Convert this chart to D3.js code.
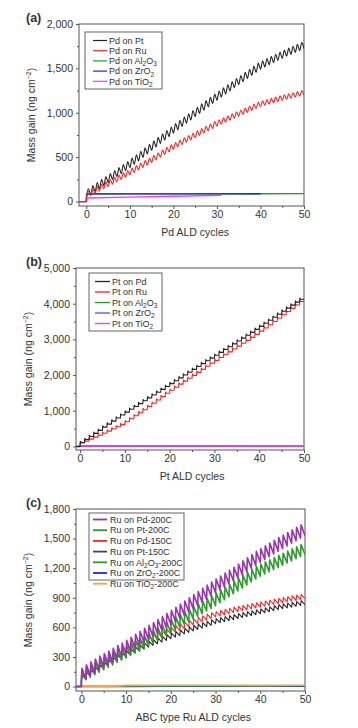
<!DOCTYPE html>
<html><head><meta charset="utf-8">
<script src="https://cdn.jsdelivr.net/npm/d3@7"></script>
<style>
body{margin:0;background:#fff;}
svg text{font-family:Arial,"Liberation Sans",Helvetica,sans-serif;fill:#333;}
</style></head>
<body>
<svg id="chart" width="358" height="728"></svg>
<script>
// ---------- DATA ----------
// Panel (a): Pd ALD, value at each cycle 0..50 (trough), with per-cycle bump height
const a_PdOnPt = [40,75,110,145,180,212,245,280,313,347,380,419,458,497,536,575,614,653,692,731,770,808,845,882,919,956,993,1030,1067,1104,1140,1176,1211,1246,1281,1316,1350,1385,1420,1455,1490,1515,1540,1565,1590,1613,1636,1658,1680,1700,1720];
const a_PdOnRu = [40,66,92,118,144,170,196,222,248,274,300,328,356,384,412,440,470,500,530,560,590,616,642,668,694,720,746,772,798,824,850,872,894,916,938,960,982,1004,1026,1048,1070,1084,1098,1112,1126,1140,1152,1164,1176,1188,1200];
const a_flatCycles = [0,10,20,30,40,50];
const a_PdOnAl2O3 = [85,86,87,88,88,89];
const a_zrCycles = [0,10,20,30,40];
const a_PdOnZrO2 = [86,86,87,87,88];
const a_tiCycles = [0,10,20,31];
const a_PdOnTiO2 = [40,50,60,70];
const a_amp = {pt:70, ru:50};

// Panel (b): Pt ALD
const b_PtOnPd = [20,110,195,280,365,450,540,625,710,795,880,960,1040,1120,1200,1280,1360,1440,1520,1600,1680,1760,1840,1920,2000,2080,2160,2240,2320,2400,2475,2555,2635,2715,2795,2875,2955,3035,3115,3195,3280,3365,3450,3535,3620,3705,3790,3875,3960,4045,4125];
const b_PtOnRu = [40,95,150,205,260,315,370,430,490,550,610,690,775,860,945,1030,1120,1210,1300,1395,1490,1575,1660,1745,1830,1910,1990,2075,2160,2245,2330,2410,2490,2570,2650,2730,2810,2890,2970,3055,3140,3230,3320,3410,3500,3590,3690,3780,3870,3965,4060];
const b_flatCycles = [0,10,20,30,40,50];
const b_PtOnAl2O3 = [8,9,10,10,11,11];
const b_PtOnZrO2 = [10,11,12,12,13,13];
const b_PtOnTiO2 = [12,13,14,14,15,15];
const b_overshoot = 35;

// Panel (c): ABC type Ru ALD
const c_PdAt200 = [40,75,110,140,170,200,225,250,278,305,330,360,390,420,450,480,510,540,570,600,630,662,694,726,758,790,822,854,886,918,950,980,1010,1040,1070,1100,1132,1164,1196,1228,1260,1288,1316,1344,1372,1400,1426,1452,1478,1504,1530];
const c_PtAt200 = [40,70,95,120,145,170,195,220,245,268,290,315,340,365,390,415,442,469,496,523,550,577,604,631,658,685,712,739,766,793,820,850,880,910,940,970,1000,1030,1060,1090,1120,1142,1164,1186,1208,1230,1252,1274,1296,1318,1340];
const c_PdAt150 = [50,85,118,150,180,210,240,270,298,325,350,372,393,413,432,450,467,484,501,518,535,553,571,589,607,625,641,657,673,689,705,716,727,738,749,760,769,778,787,796,805,814,823,832,841,850,858,866,874,882,890];
const c_PtAt150 = [45,75,105,130,155,180,205,230,255,278,300,320,340,360,380,400,417,434,451,468,485,501,517,533,549,565,579,593,607,621,637,648,659,669,679,690,700,710,719,728,738,748,758,769,780,790,798,806,814,822,830];
const c_amp = {pd200:110, pt200:100, pd150:45, pt150:40};
const c_flatCycles = [0,7,10,20,30,40,50];
const c_Al2O3 = [2,3,4,5,5,5,6];
const c_ZrO2 = [0,1,2,3,3,3,4];
const c_TiO2 = [0,2,12,14,13,12,14];

// tick labels
const a_yTicks = [0,500,1000,1500,2000];
const b_yTicks = [0,1000,2000,3000,4000,5000];
const c_yTicks = [0,300,600,900,1200,1500,1800];
const xTicks = [0,10,20,30,40,50];

// ---------- HELPERS ----------
const svg = d3.select("#chart");
const fmt = d3.format(",");

function sawPoints(vals, amp, peakPos, xStart){
  const pts = [[xStart,0],[0,0]];
  for(let n=0;n<vals.length-1;n++){
    pts.push([n, vals[n]]);
    pts.push([n+peakPos, vals[n+1]+amp]);
  }
  pts.push([vals.length-1, vals[vals.length-1]]);
  return pts;
}
function stairPoints(vals, os, xStart){
  const pts = [[xStart,0],[0,0]];
  for(let n=0;n<vals.length-1;n++){
    pts.push([n, vals[n]]);
    pts.push([n+0.08, vals[n+1]+os]);
    pts.push([n+0.3, vals[n+1]]);
  }
  pts.push([vals.length-1, vals[vals.length-1]]);
  return pts;
}
function flatPoints(cyc, vals, xStart){
  const pts = [[xStart,0],[0,0]];
  cyc.forEach((c,i)=>pts.push([c===0?0.05:c, vals[i]]));
  return pts;
}
// write text with "_x" parts as subscripts and "^x" parts as superscripts
function richText(sel, parts, subSize){
  let shift = 0;
  parts.forEach(p=>{
    let target = 0, txt = p, small = false;
    if(p.startsWith("_")){ target = 2.2; txt = p.slice(1); small = true; }
    else if(p.startsWith("^")){ target = -4; txt = p.slice(1); small = true; }
    const ts = sel.append("tspan").attr("dy", target - shift).text(txt);
    if(small) ts.style("font-size", subSize);
    shift = target;
  });
}

function panel(cfg){
  const g = svg.append("g");
  const x = d3.scaleLinear().domain(cfg.xDomain).range([cfg.left, cfg.right]);
  const y = d3.scaleLinear().domain(cfg.yDomain).range([cfg.bottom, cfg.top]);
  g.append("rect").attr("x",cfg.left).attr("y",cfg.top)
    .attr("width",cfg.right-cfg.left).attr("height",cfg.bottom-cfg.top)
    .attr("fill","none").attr("stroke","#555").attr("stroke-width",1);
  const ya = g.append("g").attr("transform",`translate(${cfg.left},0)`)
    .call(d3.axisLeft(y).tickValues(cfg.yTicks).tickFormat(fmt).tickSize(3).tickPadding(3));
  const ym = g.append("g").attr("transform",`translate(${cfg.left},0)`)
    .call(d3.axisLeft(y).tickValues(cfg.yMinor).tickFormat("").tickSize(2));
  const xa = g.append("g").attr("transform",`translate(0,${cfg.bottom})`)
    .call(d3.axisBottom(x).tickValues(xTicks).tickFormat(d3.format("d")).tickSize(3).tickPadding(2));
  const xm = g.append("g").attr("transform",`translate(0,${cfg.bottom})`)
    .call(d3.axisBottom(x).tickValues([5,15,25,35,45]).tickFormat("").tickSize(2));
  [ya,ym,xa,xm].forEach(a=>{
    a.select(".domain").remove();
    a.selectAll("line").attr("stroke","#555");
    a.selectAll("text").style("font-size","10.5px").attr("fill","#333");
  });
  const cid = "clip"+cfg.id;
  svg.append("clipPath").attr("id",cid).append("rect")
    .attr("x",cfg.left).attr("y",cfg.top).attr("width",cfg.right-cfg.left).attr("height",cfg.bottom-cfg.top);
  const plot = g.append("g").attr("clip-path",`url(#${cid})`);
  cfg.series.forEach(s=>{
    const line = d3.line().x(d=>x(d[0])).y(d=>y(d[1])).curve(s.curve||d3.curveLinear);
    plot.append("path").attr("d",line(s.pts)).attr("fill","none")
      .attr("stroke",s.color).attr("stroke-width",s.width||1).attr("stroke-linejoin","round");
  });
  g.append("text").attr("x",26).attr("y",cfg.top-2).attr("text-anchor","start")
    .style("font-size","12.5px").style("font-weight","bold").attr("fill","#333").text(cfg.label);
  g.append("text").attr("x",(x(0)+x(50))/2).attr("y",cfg.bottom+30).attr("text-anchor","middle")
    .style("font-size","10.5px").text(cfg.xLabel);
  const yl = g.append("text").attr("transform",`translate(${cfg.left-44},${(cfg.top+cfg.bottom)/2}) rotate(-90)`)
    .attr("text-anchor","middle").style("font-size","10.5px");
  richText(yl, ["Mass gain (ng cm","^−2",")"], "7px");
  const L = cfg.legend;
  g.append("rect").attr("x",L.x).attr("y",L.y).attr("width",L.w).attr("height",L.h)
    .attr("fill","#fff").attr("stroke","#555").attr("stroke-width",0.9);
  L.items.forEach((it,i)=>{
    const yy = L.y + L.first + i*L.step;
    g.append("line").attr("x1",L.x+L.lx1).attr("x2",L.x+L.lx2).attr("y1",yy).attr("y2",yy)
      .attr("stroke",it.color).attr("stroke-width",L.lw);
    const t = g.append("text").attr("x",L.x+L.tx).attr("y",yy+3.2).style("font-size","9px");
    richText(t, it.parts, "6.5px");
  });
}

// ---------- PANEL (a) ----------
panel({
  id:"a", label:"(a)", xLabel:"Pd ALD cycles",
  left:79, right:304, top:24, bottom:206,
  xDomain:[-1.7,50], yDomain:[-50,2000],
  yTicks:a_yTicks, yMinor:[250,750,1250,1750],
  series:[
    {color:"#1fa01f", pts:flatPoints(a_flatCycles,a_PdOnAl2O3,-1.7), width:1.3},
    {color:"#2020ff", pts:flatPoints(a_zrCycles,a_PdOnZrO2,-1.7), width:1.3},
    {color:"#ff33ff", pts:flatPoints(a_tiCycles,a_PdOnTiO2,-1.7), width:1.3},
    {color:"#222", pts:sawPoints(a_PdOnPt,a_amp.pt,0.5,-1.7), width:1.1, curve:d3.curveMonotoneX},
    {color:"#ff2020", pts:sawPoints(a_PdOnRu,a_amp.ru,0.5,-1.7), width:1.1, curve:d3.curveMonotoneX}
  ],
  legend:{x:85,y:32,w:77,h:57,first:8.5,step:10.2,lx1:8,lx2:22,tx:24,lw:1.2,items:[
    {color:"#222",parts:["Pd on Pt"]},
    {color:"#ff2020",parts:["Pd on Ru"]},
    {color:"#1fa01f",parts:["Pd on Al","_2","O","_3"]},
    {color:"#2020ff",parts:["Pd on ZrO","_2"]},
    {color:"#ff33ff",parts:["Pd on TiO","_2"]}
  ]}
});

// ---------- PANEL (b) ----------
panel({
  id:"b", label:"(b)", xLabel:"Pt ALD cycles",
  left:76, right:304, top:268, bottom:450,
  xDomain:[-0.9,50], yDomain:[-100,5000],
  yTicks:b_yTicks, yMinor:[500,1500,2500,3500,4500],
  series:[
    {color:"#1fa01f", pts:flatPoints(b_flatCycles,b_PtOnAl2O3,-0.9), width:1.3},
    {color:"#5050ff", pts:flatPoints(b_flatCycles,b_PtOnZrO2,-0.9), width:1.6},
    {color:"#ff33ff", pts:flatPoints(b_flatCycles,b_PtOnTiO2,-0.9), width:1.6},
    {color:"#ff2020", pts:stairPoints(b_PtOnRu,b_overshoot,-0.9), width:1.1},
    {color:"#222", pts:stairPoints(b_PtOnPd,b_overshoot,-0.9), width:1.1}
  ],
  legend:{x:89,y:273,w:73,h:58,first:8.5,step:10.5,lx1:6,lx2:21,tx:23,lw:1.3,items:[
    {color:"#222",parts:["Pt on Pd"]},
    {color:"#ff2020",parts:["Pt on Ru"]},
    {color:"#1fa01f",parts:["Pt on Al","_2","O","_3"]},
    {color:"#5050ff",parts:["Pt on ZrO","_2"]},
    {color:"#ff33ff",parts:["Pt on TiO","_2"]}
  ]}
});

// ---------- PANEL (c) ----------
panel({
  id:"c", label:"(c)", xLabel:"ABC type Ru ALD cycles",
  left:76, right:305, top:509, bottom:691,
  xDomain:[-1.2,50], yDomain:[-45,1800],
  yTicks:c_yTicks, yMinor:[150,450,750,1050,1350,1650],
  series:[
    {color:"#2020ff", pts:flatPoints(c_flatCycles,c_ZrO2,-1.2), width:1.6},
    {color:"#2e9a2e", pts:flatPoints(c_flatCycles,c_Al2O3,-1.2), width:1.2},
    {color:"#ffa040", pts:flatPoints(c_flatCycles,c_TiO2,-1.2), width:1.6},
    {color:"#222", pts:sawPoints(c_PtAt150,c_amp.pt150,0.15,-1.2), width:1.1},
    {color:"#ff2020", pts:sawPoints(c_PdAt150,c_amp.pd150,0.15,-1.2), width:1.1},
    {color:"#2e9a2e", pts:sawPoints(c_PtAt200,c_amp.pt200,0.12,-1.2), width:1.6},
    {color:"#9933b0", pts:sawPoints(c_PdAt200,c_amp.pd200,0.12,-1.2), width:1.6}
  ],
  legend:{x:89,y:513,w:95,h:67,first:6.5,step:10.7,lx1:4,lx2:18,tx:21,lw:1.8,items:[
    {color:"#9933b0",parts:["Ru on Pd-200C"]},
    {color:"#2e9a2e",parts:["Ru on Pt-200C"]},
    {color:"#ff2020",parts:["Ru on Pd-150C"]},
    {color:"#444",parts:["Ru on Pt-150C"]},
    {color:"#2e9a2e",parts:["Ru on Al","_2","O","_3","-200C"]},
    {color:"#2020ff",parts:["Ru on ZrO","_2","-200C"]},
    {color:"#ffa040",parts:["Ru on TiO","_2","-200C"]}
  ]}
});
</script>
</body></html>
